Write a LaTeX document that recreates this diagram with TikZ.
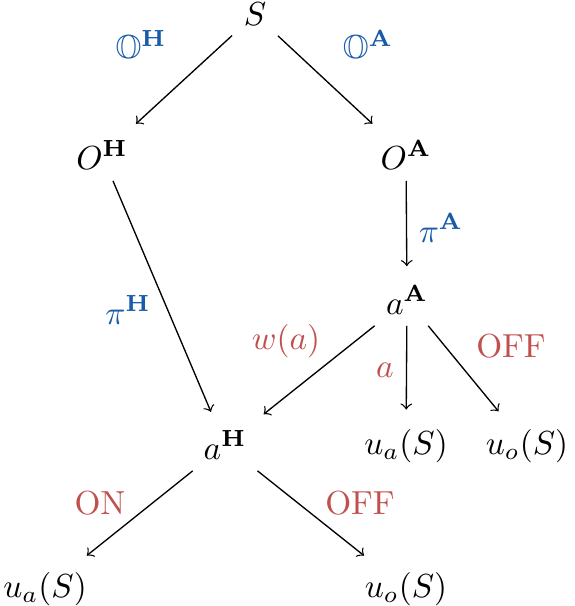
\documentclass[tikz,border=0pt]{standalone}
\usepackage{amssymb}
\usepackage{amsmath}
\definecolor{lblblue}{RGB}{25,90,170}
\definecolor{lblred}{RGB}{192,80,77}
\begin{document}
\begin{tikzpicture}[x=0.3pt,y=-0.3pt,
  st/.style={inner sep=3.33pt},
  arr/.style={->,shorten >=2.4pt,line width=0.4pt},
  bl/.style={text=lblblue,inner sep=0pt},
  rd/.style={text=lblred,inner sep=0pt}]
\useasboundingbox (0,0) rectangle (574,606);
\node[st] (S) at (255,14.5) {$S$};
\node[st] (OH) at (102,155) {$O^{\mathbf{H}}$};
\node[st] (OA) at (406,155) {$O^{\mathbf{A}}$};
\node[st] (aA) at (407,300) {$a^{\mathbf{A}}$};
\node[st] (aH) at (225,445) {$a^{\mathbf{H}}$};
\node[st] (ua1) at (406,446) {$u_a(S)$};
\node[st] (uo1) at (527,446) {$u_o(S)$};
\node[st] (ua2) at (45,589) {$u_a(S)$};
\node[st] (uo2) at (406,589) {$u_o(S)$};
\draw[arr] (S) -- (OH);
\draw[arr] (S) -- (OA);
\draw[arr] (OH) -- (aH);
\draw[arr] (OA) -- (aA);
\draw[arr] (aA) -- (aH);
\draw[arr] (aA) -- (ua1);
\draw[arr] (aA) -- (uo1);
\draw[arr] (aH) -- (ua2);
\draw[arr] (aH) -- (uo2);
\node[bl] (lOH) at (141,47) {$\mathbb{O}^{\mathbf{H}}$};
\node[bl] (lOA) at (368,47) {$\mathbb{O}^{\mathbf{A}}$};
\node[bl] (lpH) at (128,310) {$\pi^{\mathbf{H}}$};
\node[bl] (lpA) at (441,228) {$\pi^{\mathbf{A}}$};
\node[rd] (lw) at (286,341) {$w(a)$};
\node[rd] (la) at (385,370) {$a$};
\node[rd] (loff1) at (511,346) {OFF};
\node[rd] (lon) at (100,503) {ON};
\node[rd] (loff2) at (360,503) {OFF};
\end{tikzpicture}
\end{document}
